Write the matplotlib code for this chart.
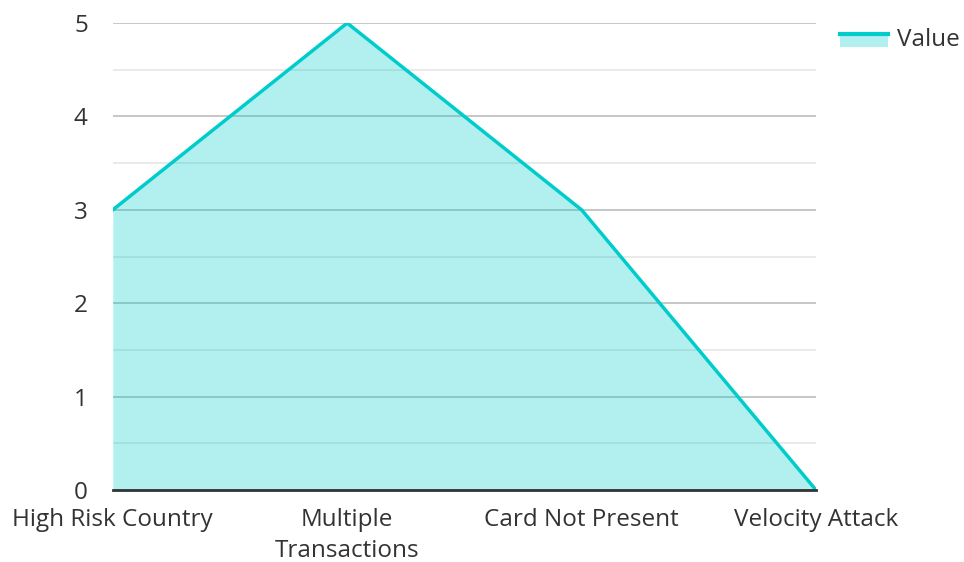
import matplotlib.pyplot as plt
from matplotlib.legend_handler import HandlerBase
from matplotlib.patches import Rectangle
from matplotlib.lines import Line2D

plt.rcParams['font.family'] = ['Open Sans', 'DejaVu Sans']

categories = ['High Risk Country', 'Multiple\nTransactions', 'Card Not Present', 'Velocity Attack']
values = [3, 5, 3, 0]
series_name = 'Value'

LINE_COLOR = '#00CCCC'
FILL_ALPHA = 0.3
TEXT_COLOR = '#333333'
FONT_SIZE = 17.5


class AreaHandler(HandlerBase):
    """Legend key: filled box with the series line along its top edge."""
    def create_artists(self, legend, orig_handle, xdescent, ydescent,
                       width, height, fontsize, trans):
        h = height * 0.75
        y0 = -ydescent + (height - h) / 2 - 2
        box = Rectangle((-xdescent, y0), width, h, facecolor=LINE_COLOR,
                        alpha=FILL_ALPHA, edgecolor='none', transform=trans)
        top = y0 + h
        line = Line2D([-xdescent, -xdescent + width], [top, top],
                      color=LINE_COLOR, lw=3, transform=trans)
        return [box, line]


fig = plt.figure(figsize=(9.64, 5.62), dpi=100)
ax = fig.add_axes([0.117, 0.128, 0.7295, 0.831])

x = list(range(len(categories)))
# translucent fill sits over the grid so the grid shows through
ax.fill_between(x, values, 0, color=LINE_COLOR, alpha=FILL_ALPHA, lw=0, zorder=2)
ax.plot(x, values, color=LINE_COLOR, lw=2.5, zorder=3, solid_joinstyle='miter')

ax.set_xlim(0, len(categories) - 1)
ax.set_ylim(0, 5)
ax.set_yticks(range(0, 6))
ax.set_yticks([i + 0.5 for i in range(5)], minor=True)
ax.grid(True, which='major', axis='y', color='#BDBDBD', lw=1.2, zorder=1)
ax.grid(True, which='minor', axis='y', color='#E6E6E6', lw=1.2, zorder=1)
ax.set_axisbelow(True)
ax.tick_params(axis='y', which='both', length=0, pad=18, labelsize=FONT_SIZE, labelcolor=TEXT_COLOR)

ax.set_xticks(x)
ax.set_xticklabels(categories, linespacing=1.38)
ax.tick_params(axis='x', length=0, pad=13, labelsize=FONT_SIZE, labelcolor=TEXT_COLOR)

for side in ['top', 'right', 'left']:
    ax.spines[side].set_visible(False)
ax.spines['bottom'].set_color(TEXT_COLOR)
ax.spines['bottom'].set_linewidth(2)
ax.spines['bottom'].set_zorder(4)

ax.legend([object()], [series_name], handler_map={object: AreaHandler()},
          loc='upper left', bbox_to_anchor=(0.871, 0.95), bbox_transform=fig.transFigure,
          frameon=False, fontsize=FONT_SIZE, handlelength=2.0, handleheight=0.7,
          handletextpad=0.35, labelcolor=TEXT_COLOR, borderaxespad=0, borderpad=0)

fig.savefig('out.png', dpi=100)
